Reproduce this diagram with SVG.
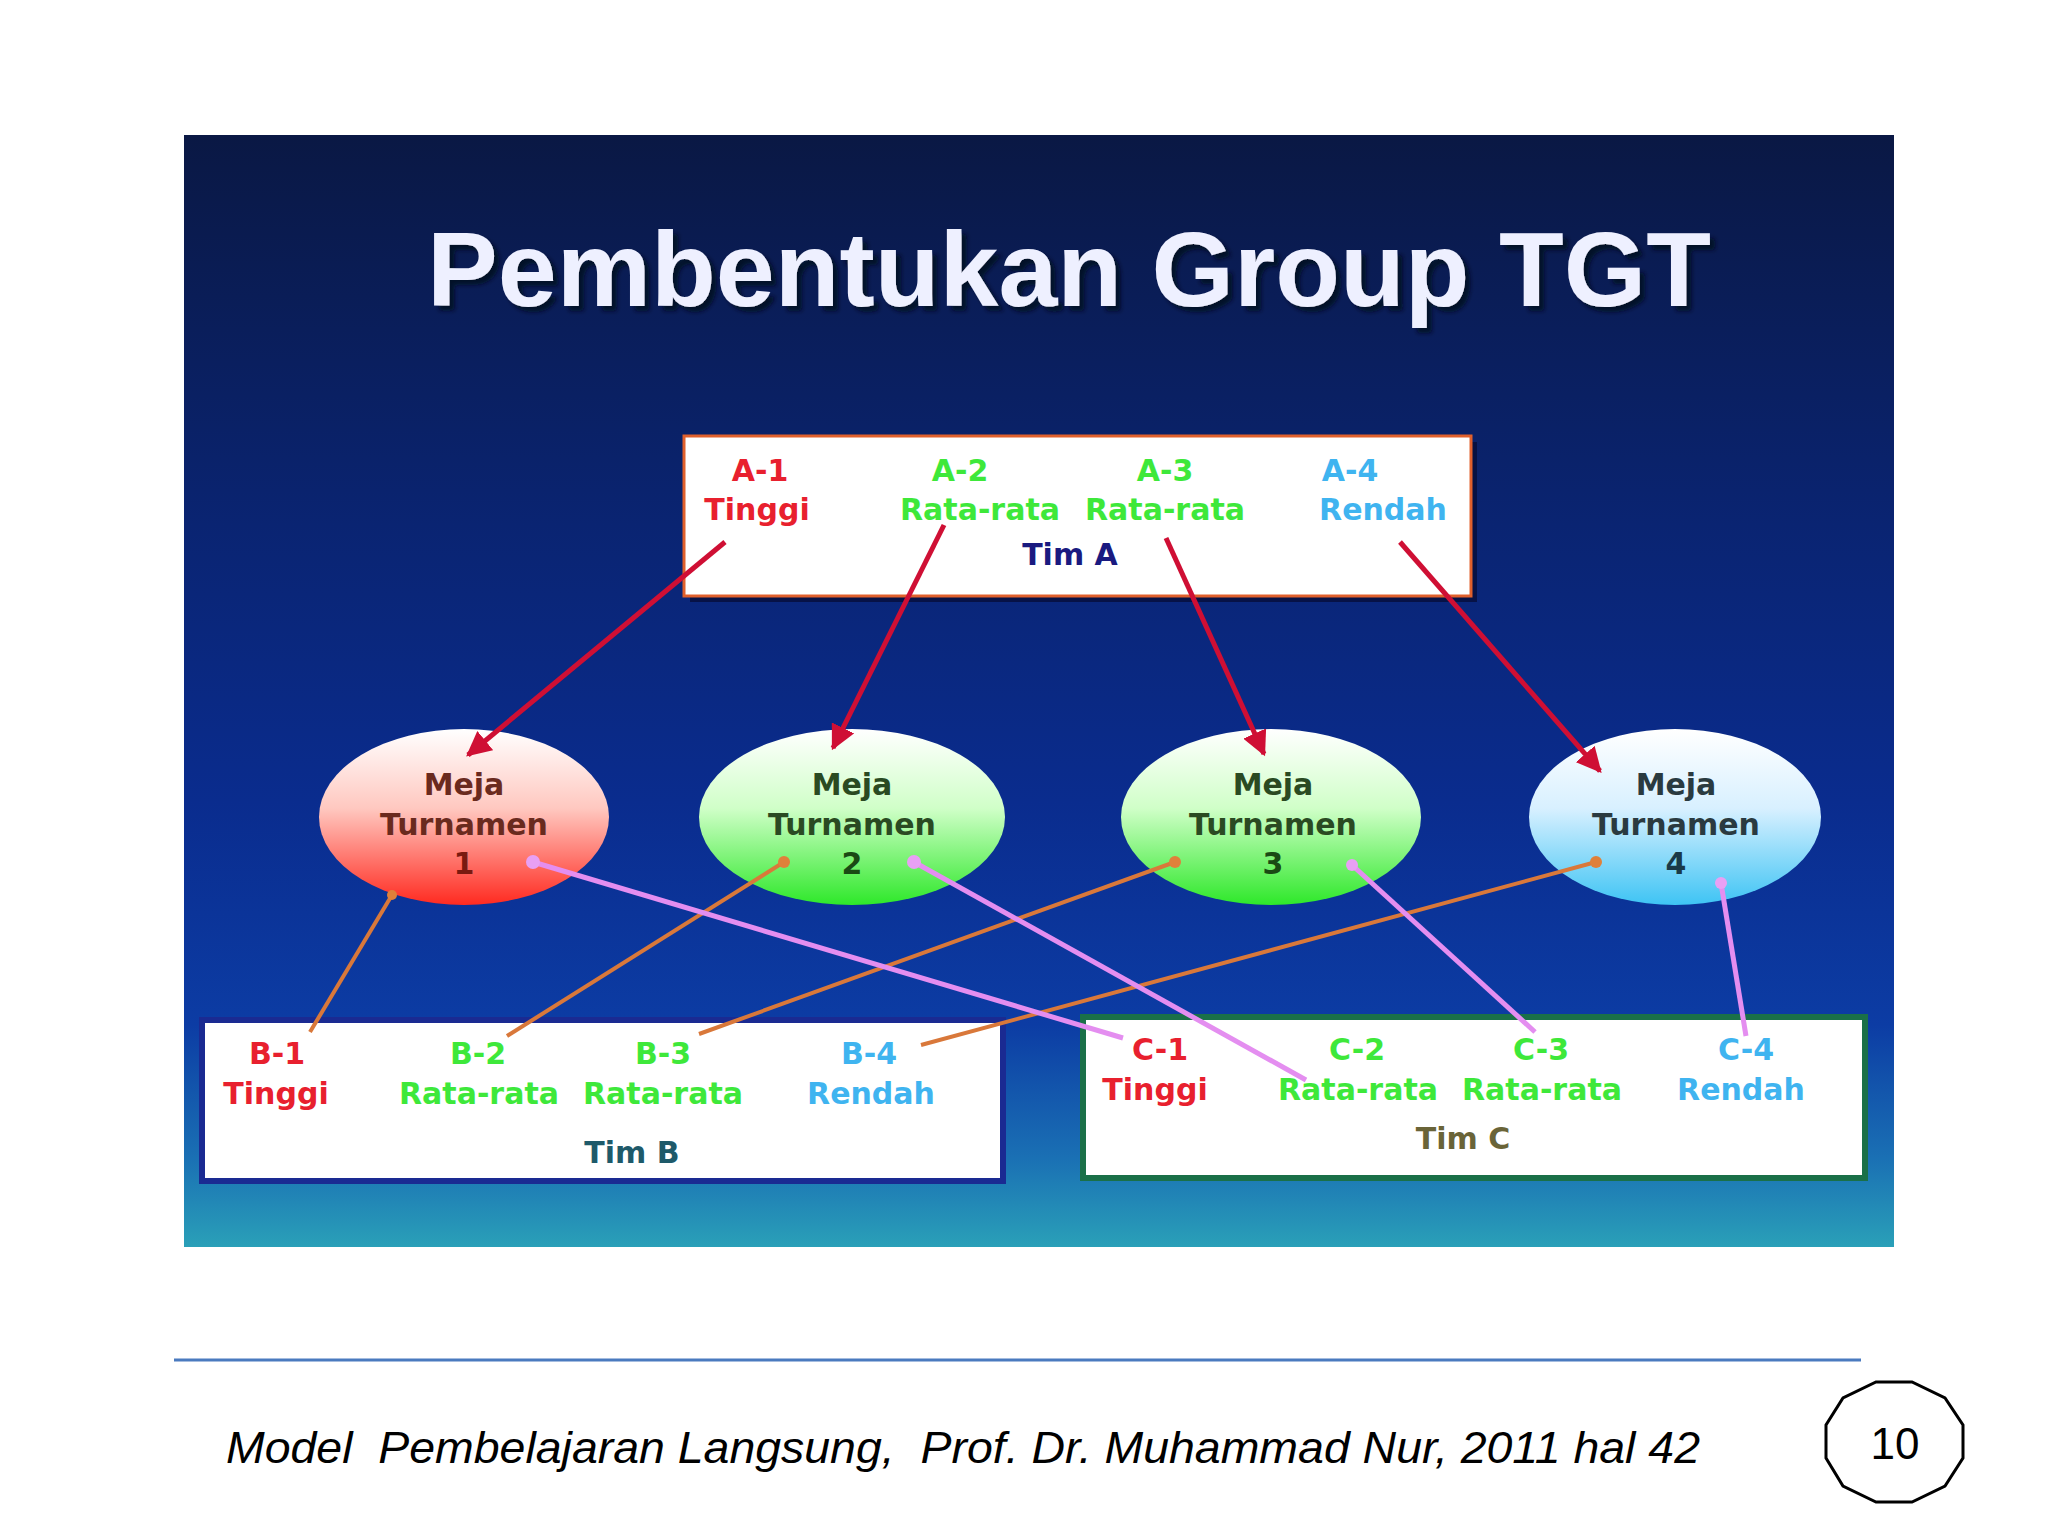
<svg xmlns="http://www.w3.org/2000/svg" width="2048" height="1536" viewBox="0 0 2048 1536">
<style>
.lbl{font-family:"DejaVu Sans",Verdana,sans-serif;font-weight:bold;font-size:30px;text-anchor:middle}
.red{fill:#e8202e}
.grn{fill:#3ee83a}
.blu{fill:#3fb4f0}
.box{fill:#ffffff}
.arrow{stroke:#cf0f34;stroke-width:5;fill:none;marker-end:url(#ah)}
.org{stroke:#d9783a;stroke-width:4;fill:none}
.pnk{stroke:#e48ef0;stroke-width:5;fill:none}
.od{fill:#e0803a}
.pd{fill:#e8a0f4}
.foot{font-family:"Liberation Sans",Arial,sans-serif;font-style:italic;font-size:44px;fill:#000;white-space:pre}
</style>
<defs>
<linearGradient id="bg" x1="0" y1="0" x2="0" y2="1">
<stop offset="0" stop-color="#0a1844"/>
<stop offset="0.35" stop-color="#0a2472"/>
<stop offset="0.6" stop-color="#0a2c8e"/>
<stop offset="0.8" stop-color="#0c3ca4"/>
<stop offset="0.92" stop-color="#1a70b4"/>
<stop offset="1" stop-color="#2aa0b8"/>
</linearGradient>
<linearGradient id="gR" x1="0" y1="0" x2="0" y2="1">
<stop offset="0" stop-color="#ffffff"/>
<stop offset="0.45" stop-color="#ffc8c0"/>
<stop offset="1" stop-color="#ff2a20"/>
</linearGradient>
<linearGradient id="gG" x1="0" y1="0" x2="0" y2="1">
<stop offset="0" stop-color="#ffffff"/>
<stop offset="0.45" stop-color="#d0ffc8"/>
<stop offset="1" stop-color="#2ee82a"/>
</linearGradient>
<linearGradient id="gB" x1="0" y1="0" x2="0" y2="1">
<stop offset="0" stop-color="#ffffff"/>
<stop offset="0.45" stop-color="#d8f0ff"/>
<stop offset="1" stop-color="#3ec4f4"/>
</linearGradient>
<filter id="sh" x="-5%" y="-20%" width="110%" height="140%">
<feDropShadow dx="5" dy="5" stdDeviation="2" flood-color="#050a20" flood-opacity="0.85"/>
</filter>
<marker id="ah" viewBox="0 0 10 10" refX="9" refY="5" markerWidth="5" markerHeight="5" orient="auto" markerUnits="strokeWidth">
<path d="M0,0 L10,5 L0,10 z" fill="#cf0f34"/>
</marker>
</defs>

<rect x="0" y="0" width="2048" height="1536" fill="#ffffff"/>
<rect x="184" y="135" width="1710" height="1112" fill="url(#bg)"/>

<g id="title">
<text x="1069" y="306" font-family="Liberation Sans,Arial,sans-serif" font-weight="bold" font-size="106" text-anchor="middle" fill="#eef0ff" filter="url(#sh)">Pembentukan Group TGT</text>
</g>

<g id="timA">
<rect x="690" y="442" width="787" height="160" fill="#050a30" opacity="0.7"/>
<rect x="684" y="436" width="787" height="160" class="box" stroke="#e0602c" stroke-width="3"/>
<text class="lbl red" x="760" y="481">A-1</text>
<text class="lbl red" x="757" y="520">Tinggi</text>
<text class="lbl grn" x="960" y="481">A-2</text>
<text class="lbl grn" x="980" y="520">Rata-rata</text>
<text class="lbl grn" x="1165" y="481">A-3</text>
<text class="lbl grn" x="1165" y="520">Rata-rata</text>
<text class="lbl blu" x="1350" y="481">A-4</text>
<text class="lbl blu" x="1383" y="520">Rendah</text>
<text class="lbl" x="1070" y="565" fill="#1a1a80">Tim A</text>
</g>

<g id="meja1">
<ellipse cx="464" cy="817" rx="145" ry="88" fill="url(#gR)"/>
<text class="lbl" x="464" y="795" fill="#6a2a1e">Meja</text>
<text class="lbl" x="464" y="835" fill="#6a2a1e">Turnamen</text>
<text class="lbl" x="464" y="874" fill="#7a1a10">1</text>
</g>
<g id="meja2">
<ellipse cx="852" cy="817" rx="153" ry="88" fill="url(#gG)"/>
<text class="lbl" x="852" y="795" fill="#2a4a22">Meja</text>
<text class="lbl" x="852" y="835" fill="#2a4a22">Turnamen</text>
<text class="lbl" x="852" y="874" fill="#1a4a14">2</text>
</g>
<g id="meja3">
<ellipse cx="1271" cy="817" rx="150" ry="88" fill="url(#gG)"/>
<text class="lbl" x="1273" y="795" fill="#2a4a22">Meja</text>
<text class="lbl" x="1273" y="835" fill="#2a4a22">Turnamen</text>
<text class="lbl" x="1273" y="874" fill="#1a4a14">3</text>
</g>
<g id="meja4">
<ellipse cx="1675" cy="817" rx="146" ry="88" fill="url(#gB)"/>
<text class="lbl" x="1676" y="795" fill="#2a3a40">Meja</text>
<text class="lbl" x="1676" y="835" fill="#2a3a40">Turnamen</text>
<text class="lbl" x="1676" y="874" fill="#1a3a48">4</text>
</g>

<g id="timB">
<rect x="202" y="1020" width="801" height="161" class="box" stroke="#1a2a92" stroke-width="6"/>
<text class="lbl red" x="277" y="1064">B-1</text>
<text class="lbl red" x="276" y="1104">Tinggi</text>
<text class="lbl grn" x="478" y="1064">B-2</text>
<text class="lbl grn" x="479" y="1104">Rata-rata</text>
<text class="lbl grn" x="663" y="1064">B-3</text>
<text class="lbl grn" x="663" y="1104">Rata-rata</text>
<text class="lbl blu" x="869" y="1064">B-4</text>
<text class="lbl blu" x="871" y="1104">Rendah</text>
<text class="lbl" x="632" y="1163" fill="#1e5a6a">Tim B</text>
</g>

<g id="timC">
<rect x="1083" y="1017" width="782" height="161" class="box" stroke="#1a7048" stroke-width="6"/>
<text class="lbl red" x="1160" y="1060">C-1</text>
<text class="lbl red" x="1155" y="1100">Tinggi</text>
<text class="lbl grn" x="1357" y="1060">C-2</text>
<text class="lbl grn" x="1358" y="1100">Rata-rata</text>
<text class="lbl grn" x="1541" y="1060">C-3</text>
<text class="lbl grn" x="1542" y="1100">Rata-rata</text>
<text class="lbl blu" x="1746" y="1060">C-4</text>
<text class="lbl blu" x="1741" y="1100">Rendah</text>
<text class="lbl" x="1463" y="1149" fill="#6a6438">Tim C</text>
</g>

<g id="connectors">
<line class="arrow" x1="725" y1="542" x2="468" y2="755"/>
<line class="arrow" x1="944" y1="525" x2="833" y2="748"/>
<line class="arrow" x1="1166" y1="538" x2="1264" y2="754"/>
<line class="arrow" x1="1400" y1="542" x2="1600" y2="771"/>

<line class="org" x1="310" y1="1032" x2="392" y2="895"/>
<line class="org" x1="507" y1="1036" x2="784" y2="862"/>
<line class="org" x1="699" y1="1034" x2="1175" y2="862"/>
<line class="org" x1="921" y1="1045" x2="1596" y2="862"/>
<circle class="od" cx="392" cy="895" r="5"/>
<circle class="od" cx="784" cy="862" r="6"/>
<circle class="od" cx="1175" cy="862" r="6"/>
<circle class="od" cx="1596" cy="862" r="6"/>

<line class="pnk" x1="1123" y1="1038" x2="533" y2="862"/>
<line class="pnk" x1="1306" y1="1080" x2="914" y2="862"/>
<line class="pnk" x1="1535" y1="1032" x2="1352" y2="865"/>
<line class="pnk" x1="1746" y1="1036" x2="1721" y2="883"/>
<circle class="pd" cx="533" cy="862" r="7"/>
<circle class="pd" cx="914" cy="862" r="7"/>
<circle class="pd" cx="1352" cy="865" r="6"/>
<circle class="pd" cx="1721" cy="883" r="6"/>
</g>

<g id="footer">
<line x1="174" y1="1360" x2="1861" y2="1360" stroke="#4a7abf" stroke-width="3"/>
<text class="foot" x="226" y="1463" textLength="1474" lengthAdjust="spacingAndGlyphs" xml:space="preserve">Model  Pembelajaran Langsung,  Prof. Dr. Muhammad Nur, 2011 hal 42</text>
</g>

<g id="pagenum">
<polygon points="1876,1382 1912,1382 1945,1398 1963,1425 1963,1458 1945,1486 1912,1502 1876,1502 1843,1486 1826,1458 1826,1425 1843,1398" fill="#ffffff" stroke="#000000" stroke-width="3"/>
<text x="1895" y="1459" font-family="Liberation Sans,Arial,sans-serif" font-size="44" text-anchor="middle" fill="#000">10</text>
</g>
</svg>
